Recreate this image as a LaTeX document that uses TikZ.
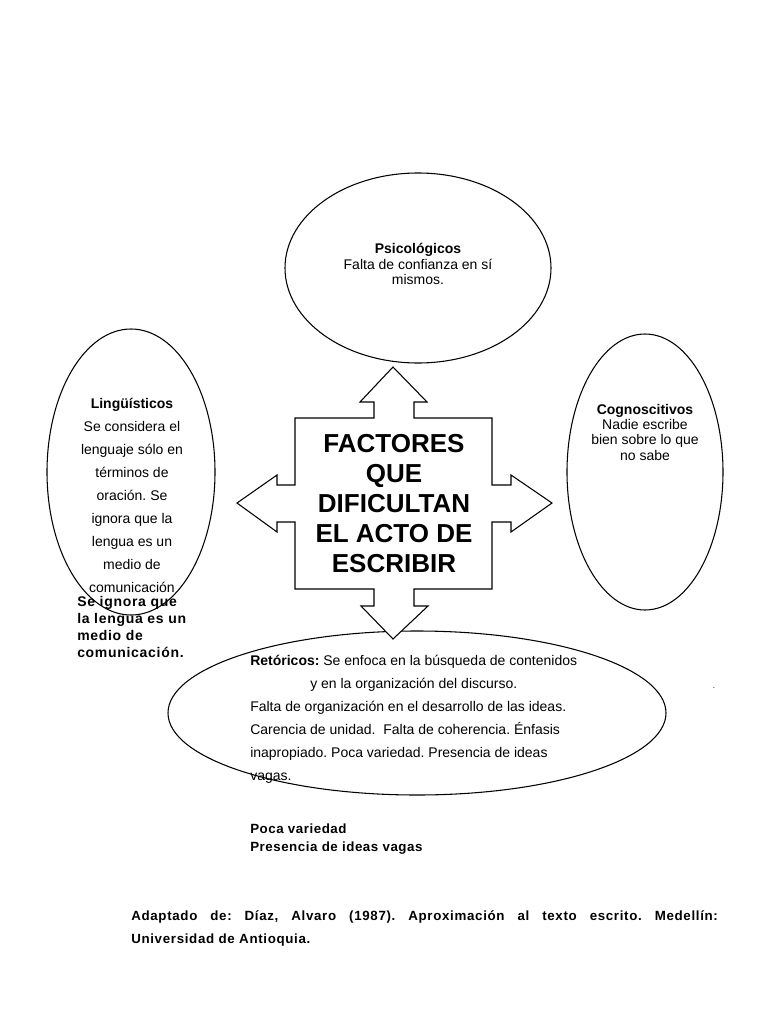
\documentclass[tikz,border=0pt]{standalone}
\usepackage{fontspec}
\setmainfont{Liberation Sans}
\frenchspacing
\begin{document}
\begin{tikzpicture}[x=0.75pt,y=-0.75pt,
  oval/.style={draw,line width=0.8pt},
  txt/.style={font=\fontsize{10.5}{17.25}\selectfont,align=center,inner sep=0pt},
  btxt/.style={inner sep=0pt}]
\useasboundingbox (0,0) rectangle (768,1024);
\fill[white] (0,0) rectangle (768,1024);
\draw[oval] (418,268) ellipse [x radius=133,y radius=95];
\draw[oval] (131,472) ellipse [x radius=84,y radius=143];
\draw[oval] (645,472) ellipse [x radius=78,y radius=138];
\draw[oval] (417,713) ellipse [x radius=249,y radius=82];
\draw[line width=0.8pt,fill=white] (295,418) -- (374,418) -- (374,402) -- (360,402) -- (393,367) -- (427,402) -- (414,402) -- (414,418) -- (492,418)
 -- (492,485) -- (511,485) -- (511,475) -- (552,503) -- (511,532) -- (511,522) -- (492,522)
 -- (492,589) -- (414,589) -- (414,606) -- (428,606) -- (393,639) -- (361,606) -- (374,606) -- (374,589)
 -- (295,589) -- (295,522) -- (277,522) -- (277,532) -- (237,503) -- (277,475) -- (277,485) -- (295,485) -- cycle;
\node[font=\fontsize{19.5}{22.5}\selectfont\bfseries,align=center] (title) at (394,504) {FACTORES\\QUE\\DIFICULTAN\\EL ACTO DE\\ESCRIBIR};
\node[txt,font=\fontsize{10.5}{11.5}\selectfont] (psi) at (418,264) {\textbf{Psicológicos}\\Falta de confianza en sí\\mismos.};
\node[txt] (lin) at (132,495) {\textbf{Lingüísticos}\\Se considera el\\lenguaje sólo en\\términos de\\oración. Se\\ignora que la\\lengua es un\\medio de\\comunicación};
\node[txt,font=\fontsize{10.5}{11.5}\selectfont] (cog) at (645,432) {\textbf{Cognoscitivos}\\Nadie escribe\\bien sobre lo que\\no sabe};
\node[btxt,anchor=north west,align=left,font=\fontsize{10.5}{12.75}\selectfont\bfseries\addfontfeatures{LetterSpace=5}] (ign) at (77,596) {Se ignora que\\la lengua es un\\medio de\\comunicación.};
\node[txt,anchor=north west,align=left] (ret) at (250,655) {\textbf{Retóricos:} Se enfoca en la búsqueda de contenidos\\\hspace*{45pt}y en la organización del discurso.\\Falta de organización en el desarrollo de las ideas.\\Carencia de unidad.\ \ Falta de coherencia. Énfasis\\inapropiado. Poca variedad. Presencia de ideas\\vagas.};
\node[btxt,anchor=north west,align=left,font=\fontsize{10}{13.5}\selectfont\bfseries\addfontfeatures{LetterSpace=4}] (poca) at (250,824) {Poca variedad\\Presencia de ideas vagas};
\node[anchor=north west,inner sep=0pt,align=left,font=\fontsize{10}{17.25}\selectfont\bfseries\addfontfeatures{LetterSpace=5}] (cite) at (131,910) {\makebox[440pt][s]{Adaptado de: Díaz, Alvaro (1987). Aproximación al texto escrito. Medellín:}\\Universidad de Antioquia.};
\node[inner sep=0pt,font=\fontsize{6}{6}\selectfont] (dot) at (714,688) {.};
\end{tikzpicture}
\end{document}
